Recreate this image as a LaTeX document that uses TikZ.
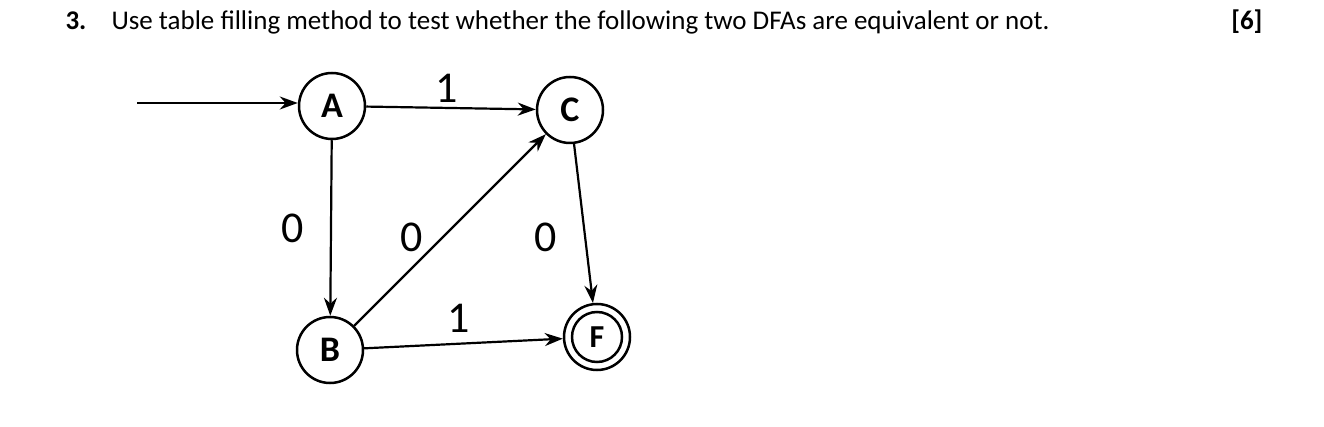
\documentclass[tikz,border=0pt]{standalone}
\usepackage{fontspec}
\setmainfont{Carlito}
\usetikzlibrary{arrows.meta}
\begin{document}
\begin{tikzpicture}[x=1pt,y=-1pt,
  st/.style={circle,draw,line width=2.5pt,minimum size=66pt,inner sep=0pt,font=\fontsize{36}{36}\selectfont\bfseries},
  tr/.style={line width=2.2pt,-{Stealth[length=18pt,width=13pt]}},
  lbl/.style={font=\fontsize{44}{44}\selectfont}]
\useasboundingbox (0,0) rectangle (1324,427);
\node[anchor=base west,font=\fontsize{27}{27}\selectfont\bfseries] (num) at (62,30) {3.};
\node[anchor=base west,font=\fontsize{27}{27}\selectfont] (q) at (108,30) {Use table filling method to test whether the following two DFAs are equivalent or not.};
\node[anchor=base east,font=\fontsize{27}{27}\selectfont\bfseries] (pts) at (1266,30) {[6]};
\node[st] (A) at (332,106) {A};
\node[st] (C) at (570,110) {C};
\node[st] (B) at (330,350) {B};
\node[circle,draw,line width=2.5pt,minimum size=66pt,inner sep=0pt] (F) at (597,337) {};
\node[circle,draw,line width=2.5pt,minimum size=50pt,inner sep=0pt,font=\fontsize{32}{32}\selectfont\bfseries] (Fi) at (597,337) {F};
\coordinate (s) at (137,103);
\draw[tr] (s) -- (A.west|-s);
\draw[tr] (A) -- (C);
\draw[tr] (A) -- (B);
\draw[tr] (B) -- (C);
\draw[tr] (C) -- (F);
\draw[tr] (B) -- (F);
\node[lbl] (l1) at (447,88) {1};
\node[lbl] (l2) at (293,228) {0};
\node[lbl] (l3) at (412,237) {0};
\node[lbl] (l4) at (546,237) {0};
\node[lbl] (l5) at (459,318) {1};
\end{tikzpicture}
\end{document}
